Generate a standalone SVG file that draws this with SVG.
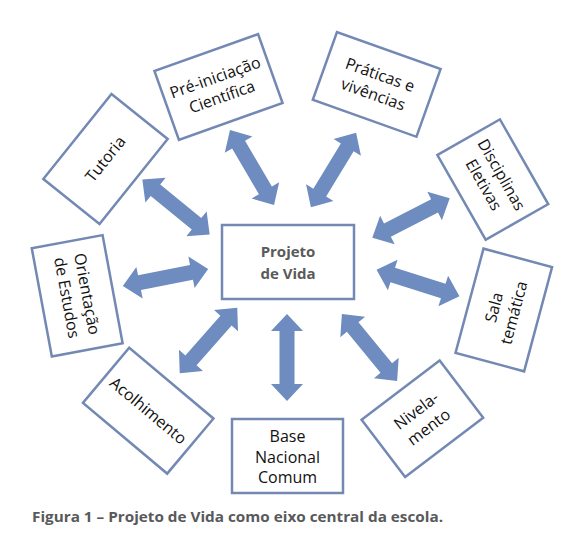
<svg xmlns="http://www.w3.org/2000/svg" width="575" height="533" viewBox="0 0 575 533">
<style>
.box{fill:#fff;stroke:#7389b4;stroke-width:2.5}
.t{font-family:"Open Sans","Noto Sans",sans-serif;font-size:16px;fill:#111;text-anchor:middle}
.c{font-family:"Open Sans","Noto Sans",sans-serif;font-size:15px;font-weight:bold;fill:#5a5a5a;text-anchor:middle}
.cap{font-family:"Open Sans","Noto Sans",sans-serif;font-size:15px;font-weight:bold;fill:#58595b}
.arr{fill:#6e8cbf}
</style>
<defs>
<polygon id="dbl" class="arr" points="-43.5,0 -26.5,-16 -26.5,-7.5 26.5,-7.5 26.5,-16 43.5,0 26.5,16 26.5,7.5 -26.5,7.5 -26.5,16"/>
</defs>
<rect width="575" height="533" fill="#fff"/>
<g id="connectors">
<use href="#dbl" transform="translate(252,167.5) rotate(59.6)"/>
<use href="#dbl" transform="translate(176,207) rotate(39.3)"/>
<use href="#dbl" transform="translate(333.5,170) rotate(121.3)"/>
<use href="#dbl" transform="translate(411,218) rotate(152.9)"/>
<use href="#dbl" transform="translate(418,283) rotate(17.6)"/>
<use href="#dbl" transform="translate(369.5,347.5) rotate(50.6)"/>
<use href="#dbl" transform="translate(287,357.5) rotate(90)"/>
<use href="#dbl" transform="translate(208.5,340.5) rotate(131.4)"/>
<use href="#dbl" transform="translate(165.5,277.5) rotate(168.7)"/>
</g>
<g id="projeto" transform="translate(288,262)">
<rect class="box" x="-66" y="-37" width="132" height="74"/>
<text class="c" y="-5.5">Projeto</text>
<text class="c" y="16.5">de Vida</text>
</g>
<g id="pre" transform="translate(218.5,87) rotate(-19.6)">
<rect class="box" x="-55" y="-36.5" width="110" height="73"/>
<text class="t" y="-4.5">Pré-iniciação</text>
<text class="t" y="16">Científica</text>
</g>
<g id="tutoria" transform="translate(105.5,159) rotate(-51.3)">
<rect class="box" x="-54.5" y="-36" width="109" height="72"/>
<text class="t" y="5.5">Tutoria</text>
</g>
<g id="praticas" transform="translate(376.7,84.4) rotate(19.6)">
<rect class="box" x="-55" y="-36" width="110" height="72"/>
<text class="t" y="-4.5">Práticas e</text>
<text class="t" y="16">vivências</text>
</g>
<g id="disciplinas" transform="translate(492.8,179.6) rotate(60.3)">
<rect class="box" x="-48.75" y="-36" width="97.5" height="72"/>
<text class="t" y="-4.5">Disciplinas</text>
<text class="t" y="16">Eletivas</text>
</g>
<g id="sala" transform="translate(503.8,310) rotate(-75)">
<rect class="box" x="-54" y="-35.5" width="108" height="71"/>
<text class="t" y="-4.5">Sala</text>
<text class="t" y="16">temática</text>
</g>
<g id="nivelamento" transform="translate(422.4,418.7) rotate(-37.2)">
<rect class="box" x="-49" y="-36" width="98" height="72"/>
<text class="t" y="-4.5">Nivela-</text>
<text class="t" y="16">mento</text>
</g>
<g id="base" transform="translate(287.5,456)">
<rect class="box" x="-55.5" y="-37" width="111" height="74"/>
<text class="t" y="-14">Base</text>
<text class="t" y="6.5">Nacional</text>
<text class="t" y="27">Comum</text>
</g>
<g id="acolhimento" transform="translate(148.2,410.7) rotate(40)">
<rect class="box" x="-55" y="-36" width="110" height="72"/>
<text class="t" y="5.5">Acolhimento</text>
</g>
<g id="orientacao" transform="translate(77.2,295.8) rotate(79.5)">
<rect class="box" x="-55" y="-36" width="110" height="72"/>
<text class="t" y="-4.5">Orientação</text>
<text class="t" y="16">de Estudos</text>
</g>
<text class="cap" x="32" y="522" textLength="411" lengthAdjust="spacingAndGlyphs">Figura 1 – Projeto de Vida como eixo central da escola.</text>
</svg>
